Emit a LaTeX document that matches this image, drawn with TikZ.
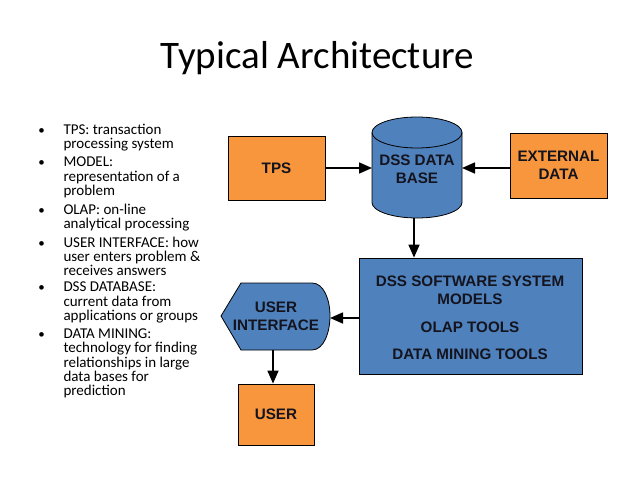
\documentclass[tikz,border=0pt]{standalone}
\usepackage{fontspec}
\setmainfont{Carlito}
\newfontfamily\labfont{Liberation Sans}
\usetikzlibrary{arrows.meta}
\definecolor{boxorange}{RGB}{247,150,60}
\definecolor{boxblue}{RGB}{79,129,189}
\definecolor{labtext}{RGB}{20,20,30}
\begin{document}
\begin{tikzpicture}[x=1pt,y=-1pt,
  lab/.style={font=\labfont\bfseries\fontsize{15.2}{18}\selectfont, text=labtext, align=center, inner sep=0pt},
  obox/.style={draw=black, line width=0.8pt, fill=boxorange, inner sep=0pt},
  bbox/.style={draw=black, line width=0.8pt, fill=boxblue, inner sep=0pt},
  arr/.style={line width=1.6pt, -{Triangle[length=13pt,width=11pt]}},
  bul/.style={font=\fontsize{15}{15}\selectfont, anchor=base west, inner sep=0pt},
  dot/.style={font=\fontsize{13}{13}\selectfont, anchor=base, inner sep=0pt}]
\useasboundingbox[fill=white] (0,0) rectangle (638,479);

% title
\node[font=\fontsize{39}{42}\selectfont, anchor=base, inner sep=0pt] (title) at (317.5,68) {Typical Architecture};

% bullets
\foreach \y [count=\i] in {134,166.7,214.3,247,291.7,338.3}
  \node[dot] (b\i) at (41.7,\y) {•};
\foreach \y/\t [count=\i] in {
  134/{TPS: transaction},
  148.4/{processing system},
  166.7/{MODEL:},
  181.1/{representation of a},
  195.5/{problem},
  214.3/{OLAP: on-line},
  228.7/{analytical processing},
  247/{USER INTERFACE: how},
  261.4/{user enters problem \&},
  275.8/{receives answers},
  291.7/{DSS DATABASE:},
  306.1/{current data from},
  320.5/{applications or groups},
  338.3/{DATA MINING:},
  352.7/{technology for finding},
  367.1/{relationships in large},
  381.5/{data bases for},
  395.9/{prediction}}
  \node[bul] (t\i) at (63.3,\y) {\t};

% boxes
\node[obox, minimum width=97pt, minimum height=64pt] (tps) at (276.5,168) {};
\node[lab] (tpstxt) at (tps.center) {TPS};
\node[obox, minimum width=97pt, minimum height=65pt] (ext) at (558.5,165.5) {};
\node[lab] (exttxt) at (ext.center) {EXTERNAL\\DATA};

% cylinder
\path[draw=black, line width=0.8pt, fill=boxblue]
  (372,132.5) -- (372,202.5)
  arc[start angle=180, end angle=360, x radius=45pt, y radius=15.5pt]
  -- (462,132.5)
  arc[start angle=0, end angle=180, x radius=45pt, y radius=15.5pt] -- cycle;
\draw[line width=0.8pt] (372,132.5)
  arc[start angle=180, end angle=360, x radius=45pt, y radius=15.5pt];
\node[lab] (db) at (417,169) {DSS DATA\\BASE};
\coordinate (dbL) at (372,168);
\coordinate (dbR) at (462,168);
\coordinate (dbB) at (414,218);

% software box
\node[bbox, minimum width=223pt, minimum height=116pt] (soft) at (470.5,316) {};
\node[lab] (softtxt) at (470,318) {DSS SOFTWARE SYSTEM\\MODELS\\[10pt]OLAP TOOLS\\[9pt]DATA MINING TOOLS};

% user interface shape
\path[draw=black, line width=0.8pt, fill=boxblue]
  (221,316) -- (241,283) -- (312,283)
  .. controls (324,283) and (330,300) .. (330,316)
  .. controls (330,332) and (324,350) .. (312,350)
  -- (241,350) -- cycle;
\node[lab] (ui) at (276,316) {USER\\INTERFACE};
\coordinate (uiR) at (330,318);
\coordinate (uiB) at (273,350);

% user box
\node[obox, minimum width=76pt, minimum height=61pt] (user) at (276,414.5) {};
\node[lab] (usertxt) at (user.center) {USER};

% connectors
\draw[arr] (tps.east |- dbL) -- (dbL);
\draw[arr] (ext.west |- dbR) -- (dbR);
\draw[arr] (dbB) -- (dbB |- soft.north);
\draw[arr] (soft.west |- uiR) -- (uiR);
\draw[arr] (uiB) -- (uiB |- user.north);
\end{tikzpicture}
\end{document}
